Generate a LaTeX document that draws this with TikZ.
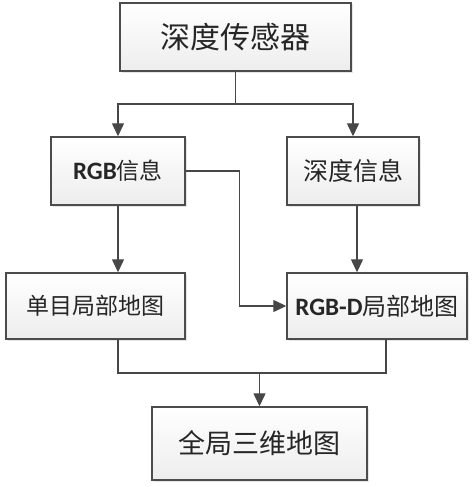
\documentclass[tikz,border=0pt]{standalone}
\usepackage{fontspec}
\setmainfont{Noto Sans CJK SC}
\newfontfamily\rgbfont{Carlito}
\usetikzlibrary{arrows.meta,shadows}
\tikzset{
  box/.style={draw=black!70,line width=1.4pt,top color=white,bottom color=gray!14,
    drop shadow={opacity=0.2,shadow xshift=1.5pt,shadow yshift=-1.5pt},
    inner sep=0pt,text=black!85},
  link/.style={draw=black!72,line width=1.3pt},
  arr/.style={link,-{Triangle[width=12pt,length=13pt]}}
}
\begin{document}
\begin{tikzpicture}[x=1pt,y=-1pt]
\useasboundingbox (0,0) rectangle (474,487);
\node[box,minimum width=231pt,minimum height=68pt,font=\fontsize{30}{32}\selectfont] (sensor) at (235.5,37) {深度传感器};
\node[box,minimum width=134pt,minimum height=68pt,font=\fontsize{23}{26}\selectfont] (rgb) at (118,171) {{\rgbfont\bfseries\fontsize{25}{26}\selectfont RGB}信息};
\node[box,minimum width=132pt,minimum height=68pt,font=\fontsize{25}{27}\selectfont] (depth) at (353,171) {深度信息};
\node[box,minimum width=179pt,minimum height=66pt,font=\fontsize{23}{26}\selectfont] (mono) at (95.5,306) {单目局部地图};
\node[box,minimum width=180pt,minimum height=66pt,font=\fontsize{24}{26}\selectfont] (rgbd) at (377,306) {{\rgbfont\bfseries\fontsize{25}{26}\selectfont RGB-D}局部地图};
\node[box,minimum width=215pt,minimum height=73pt,font=\fontsize{27}{30}\selectfont] (global) at (259.5,443.5) {全局三维地图};
\coordinate (fork) at (235.5,104);
\coordinate (join) at (259.5,373);
\draw[link] (sensor.south) -- (fork);
\draw[arr] (fork) -| (rgb.north);
\draw[arr] (fork) -| (depth.north);
\draw[arr] (rgb.south) -- (rgb.south |- mono.north);
\draw[arr] ([xshift=4pt]depth.south) -- ([xshift=4pt]depth.south |- rgbd.north);
\draw[arr] (rgb.east) -- ++(54,0) |- (rgbd.west);
\draw[link] (rgb.south |- mono.south) |- (join);
\draw[link] ([xshift=9pt]rgbd.south) |- (join);
\draw[arr] (join) -- (global.north);
\end{tikzpicture}
\end{document}
